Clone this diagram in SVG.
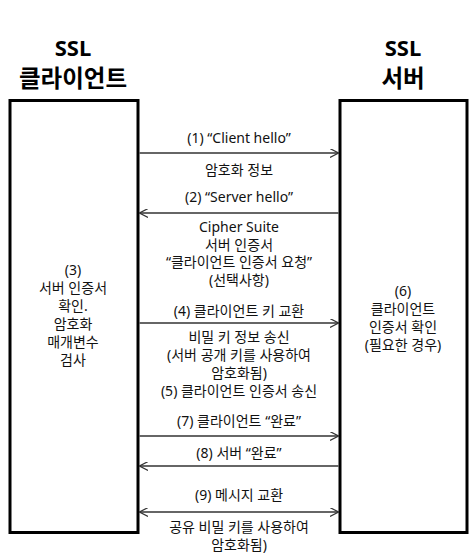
<svg xmlns="http://www.w3.org/2000/svg" width="474" height="558" viewBox="0 0 474 558">
<style>
  .box { fill: #fff; stroke: #000; stroke-width: 3; }
  .hdr { font-family: "Noto Sans", "Noto Sans CJK KR", sans-serif; font-weight: bold; fill: #000; text-anchor: middle; }
  .ssl { font-size: 22px; }
  .kr { font-size: 23.5px; }
  .lbl { font-family: "Noto Sans", "Noto Sans CJK KR", sans-serif; font-size: 14px; fill: #111; text-anchor: middle; }
  .conn { stroke: #333; stroke-width: 1.3; fill: none; }
</style>
<defs>
  <marker id="ah" viewBox="0 0 10 10" refX="9.5" refY="5" markerWidth="9" markerHeight="9" markerUnits="userSpaceOnUse" orient="auto-start-reverse">
    <path d="M0,0 L9.5,5 L0,10" fill="none" stroke="#333" stroke-width="1.3"/>
  </marker>
</defs>
<rect width="474" height="558" fill="#fff"/>

<g id="client">
  <text class="hdr ssl" x="73" y="56">SSL</text>
  <text class="hdr kr" x="73" y="87">클라이언트</text>
  <rect class="box" x="10" y="100.5" width="128" height="432"/>
  <text class="lbl" x="73" y="275">(3)</text>
  <text class="lbl" x="73" y="293">서버 인증서</text>
  <text class="lbl" x="73" y="311">확인.</text>
  <text class="lbl" x="73" y="329">암호화</text>
  <text class="lbl" x="73" y="347">매개변수</text>
  <text class="lbl" x="73" y="365">검사</text>
</g>

<g id="server">
  <text class="hdr ssl" x="403" y="56">SSL</text>
  <text class="hdr kr" x="403" y="87">서버</text>
  <rect class="box" x="340" y="100.5" width="127" height="432"/>
  <text class="lbl" x="403" y="296">(6)</text>
  <text class="lbl" x="403" y="314">클라이언트</text>
  <text class="lbl" x="403" y="332">인증서 확인</text>
  <text class="lbl" x="403" y="350">(필요한 경우)</text>
</g>

<g id="connectors">
  <line class="conn" x1="139.5" y1="153" x2="338.5" y2="153" marker-end="url(#ah)"/>
  <line class="conn" x1="338.5" y1="213" x2="139.5" y2="213" marker-end="url(#ah)"/>
  <line class="conn" x1="139.5" y1="323" x2="338.5" y2="323" marker-end="url(#ah)"/>
  <line class="conn" x1="139.5" y1="436" x2="338.5" y2="436" marker-end="url(#ah)"/>
  <line class="conn" x1="338.5" y1="466" x2="139.5" y2="466" marker-end="url(#ah)"/>
  <line class="conn" x1="139.5" y1="512" x2="338.5" y2="512" marker-start="url(#ah)" marker-end="url(#ah)"/>
</g>

<g id="labels">
  <text class="lbl" x="239" y="143">(1)  “Client hello”</text>
  <text class="lbl" x="239" y="175">암호화 정보</text>
  <text class="lbl" x="239" y="202">(2) “Server hello”</text>
  <text class="lbl" x="239" y="232">Cipher Suite</text>
  <text class="lbl" x="239" y="249.5">서버 인증서</text>
  <text class="lbl" x="239" y="267">“클라이언트 인증서 요청”</text>
  <text class="lbl" x="239" y="284.5">(선택사항)</text>
  <text class="lbl" x="239" y="316">(4) 클라이언트 키 교환</text>
  <text class="lbl" x="239" y="342">비밀 키 정보 송신</text>
  <text class="lbl" x="239" y="360">(서버 공개 키를 사용하여</text>
  <text class="lbl" x="239" y="378">암호화됨)</text>
  <text class="lbl" x="239" y="396">(5) 클라이언트 인증서 송신</text>
  <text class="lbl" x="239" y="426">(7) 클라이언트 “완료”</text>
  <text class="lbl" x="239" y="458">(8) 서버 “완료”</text>
  <text class="lbl" x="239" y="500">(9) 메시지 교환</text>
  <text class="lbl" x="239" y="532">공유 비밀 키를 사용하여</text>
  <text class="lbl" x="239" y="550">암호화됨)</text>
</g>
</svg>
